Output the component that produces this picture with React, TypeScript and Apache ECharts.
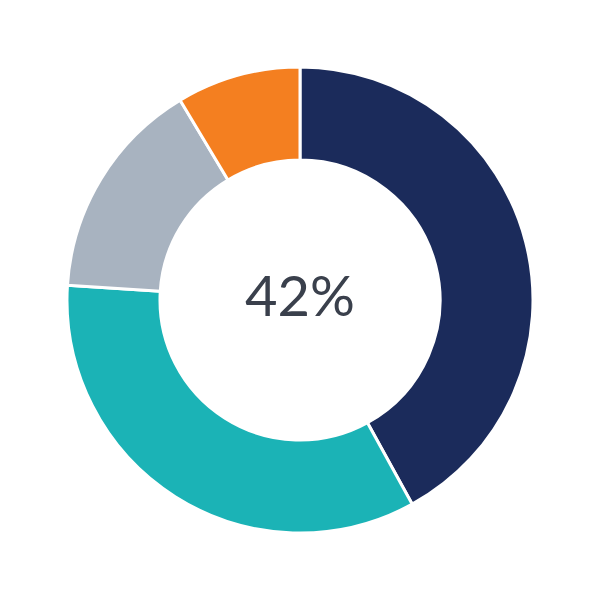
import React, { useEffect, useRef } from "react";
import * as echarts from "echarts";

const categories: string[] = ["Navy", "Teal", "Gray", "Orange"];
const values: number[] = [42, 34, 15.4, 8.6];
const colors: string[] = ["#1b2b5b", "#1bb3b6", "#a8b3c0", "#f47f20"];
const centerLabel = "42%";

const App: React.FC = () => {
  const chartRef = useRef<HTMLDivElement | null>(null);

  useEffect(() => {
    if (!chartRef.current) return;
    document.body.style.margin = "0";

    const myChart = echarts.init(chartRef.current, undefined, { renderer: "svg" });

    const option: echarts.EChartsOption = {
      animation: false,
      color: colors,
      graphic: [
        {
          type: "text",
          x: 300,
          y: 294,
          style: {
            text: centerLabel,
            fontSize: 56,
            fontFamily: "Lato",
            fontWeight: 400,
            fill: "#3a404c",
            align: "center",
            verticalAlign: "middle",
          },
        },
      ],
      series: [
        {
          type: "pie",
          center: [300, 300],
          radius: [140, 233],
          startAngle: 90,
          clockwise: true,
          label: { show: false },
          labelLine: { show: false },
          emphasis: { disabled: true },
          itemStyle: { borderColor: "#ffffff", borderWidth: 3 },
          data: categories.map((name, i) => ({ name, value: values[i] })),
        },
      ],
    };

    myChart.setOption(option);

    return () => {
      myChart.dispose();
    };
  }, []);

  return <div ref={chartRef} style={{ width: "600px", height: "600px" }} />;
};

export default App;
